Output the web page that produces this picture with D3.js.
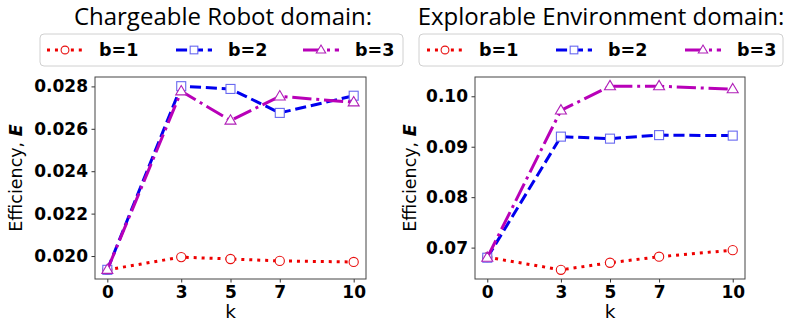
<!DOCTYPE html>
<html><head><meta charset="utf-8">
<script src="https://cdn.jsdelivr.net/npm/d3@7"></script>
<style>body{margin:0;background:#fff}</style>
</head><body>
<svg id="chart" width="794" height="324"></svg>
<script>
const kValues = [0, 3, 5, 7, 10];
const seriesNames = ["b=1", "b=2", "b=3"];
// Chargeable Robot domain
const robotB1 = [0.01935, 0.01995, 0.01986, 0.01977, 0.01972];
const robotB2 = [0.01935, 0.02801, 0.02788, 0.02675, 0.02756];
const robotB3 = [0.01935, 0.02777, 0.02639, 0.02753, 0.02725];
const robotTicks = [0.020, 0.022, 0.024, 0.026, 0.028];
// Explorable Environment domain
const envB1 = [0.0681, 0.0656, 0.0670, 0.0682, 0.0695];
const envB2 = [0.0680, 0.0920, 0.0916, 0.0923, 0.0922];
const envB3 = [0.0680, 0.0972, 0.1020, 0.1020, 0.1014];
const envTicks = [0.07, 0.08, 0.09, 0.10];

const styles = [
  {color: "#ee0000", dash: "3,4.95", marker: "circle", edge: "#e81010"},
  {color: "#0000ee", dash: "11.1,4.8", marker: "square", edge: "#6868f0"},
  {color: "#b800b8", dash: "19.2,4.8,3,4.8", marker: "triangle", edge: "#b020b8"}
];

const svg = d3.select("#chart");
const tickFont = "'DejaVu Sans', sans-serif";

function drawMarker(g, type, x, y, st, scale = 1) {
  let m;
  if (type === "circle") {
    m = g.append("circle").attr("cx", x).attr("cy", y).attr("r", 4.6 * scale);
  } else if (type === "square") {
    const h = 4.5 * scale;
    m = g.append("rect").attr("x", x - h).attr("y", y - h).attr("width", 2 * h).attr("height", 2 * h);
  } else {
    const s = 5.8 * scale;
    m = g.append("path").attr("d", `M${x},${y - s}L${x + s * 0.95},${y + s * 0.62}L${x - s * 0.95},${y + s * 0.62}Z`);
  }
  m.attr("fill", "#fff").attr("stroke", st.edge).attr("stroke-width", 1.1);
}

function panel(opts) {
  const {left, right, top, bottom, series, ticks, tickFmt, title, titleX, legend} = opts;
  const all = series.flat();
  const mn = d3.min(all), mx = d3.max(all), pad = (mx - mn) * 0.05;
  const x = d3.scaleLinear().domain([-0.5, 10.5]).range([left, right]);
  const y = d3.scaleLinear().domain([mn - pad, mx + pad]).range([bottom, top]);

  // title
  svg.append("text").attr("x", titleX).attr("y", 25).attr("text-anchor", "middle")
    .attr("font-family", "'Open Sans', sans-serif").attr("font-size", 24).attr("fill", "#000").text(title);

  // legend
  const lg = svg.append("g");
  lg.append("rect").attr("x", legend.x0).attr("y", 34).attr("width", legend.x1 - legend.x0).attr("height", 32)
    .attr("rx", 4).attr("fill", "#fff").attr("stroke", "#d0d0d0").attr("stroke-width", 1);
  series.forEach((s, i) => {
    const st = styles[i];
    const hx = legend.handles[i];
    lg.append("line").attr("x1", hx).attr("x2", hx + 36).attr("y1", 50).attr("y2", 50)
      .attr("stroke", st.color).attr("stroke-width", 3).attr("stroke-dasharray", st.dash);
    drawMarker(lg, st.marker, hx + 18, 50, st, 0.85);
    lg.append("text").attr("x", hx + 52).attr("y", 56).attr("font-family", tickFont).attr("font-weight", "bold")
      .attr("font-size", 17.5).text(seriesNames[i]);
  });

  // axes
  const xAxis = d3.axisBottom(x).tickValues(kValues).tickSize(3.5).tickPadding(3).tickFormat(d3.format("d"));
  const yAxis = d3.axisLeft(y).tickValues(ticks).tickSize(3.5).tickPadding(3.5).tickFormat(tickFmt);
  const gx = svg.append("g").attr("transform", `translate(0,${bottom})`).call(xAxis);
  const gy = svg.append("g").attr("transform", `translate(${left},0)`).call(yAxis);
  [gx, gy].forEach(g => {
    g.select(".domain").remove();
    g.selectAll(".tick line").attr("stroke", "#333");
    g.selectAll(".tick text").attr("font-family", tickFont).attr("font-weight", "bold").attr("font-size", 17).attr("fill", "#000");
  });
  gx.selectAll(".tick text").attr("y", 19).attr("dy", "0");

  // lines
  series.forEach((s, i) => {
    const st = styles[i];
    const line = d3.line().x((d, j) => x(kValues[j])).y(d => y(d));
    svg.append("path").datum(s).attr("d", line).attr("fill", "none").attr("stroke", st.color)
      .attr("stroke-width", 3).attr("stroke-dasharray", st.dash);
    const mg = svg.append("g");
    s.forEach((v, j) => drawMarker(mg, st.marker, x(kValues[j]), y(v), st));
  });

  // frame
  svg.append("rect").attr("x", left).attr("y", top).attr("width", right - left).attr("height", bottom - top)
    .attr("fill", "none").attr("stroke", "#444").attr("stroke-width", 1);

  // axis labels
  svg.append("text").attr("x", (left + right) / 2).attr("y", 318).attr("text-anchor", "middle")
    .attr("font-family", tickFont).attr("font-size", 18.5).text("k");
  const yl = svg.append("text").attr("transform", `translate(${opts.ylabelX},${(top + bottom) / 2}) rotate(-90)`)
    .attr("text-anchor", "middle").attr("font-family", tickFont).attr("font-size", 17.5);
  yl.append("tspan").text("Efficiency, ");
  yl.append("tspan").attr("font-weight", "bold").attr("font-style", "italic").text("E");
}

panel({left: 95, right: 366, top: 77, bottom: 279, series: [robotB1, robotB2, robotB3], ticks: robotTicks,
  tickFmt: d3.format(".3f"), title: "Chargeable Robot domain:", titleX: 223, ylabelX: 22,
  legend: {x0: 40, x1: 403, handles: [47, 176, 303]}});
panel({left: 475, right: 745, top: 77, bottom: 279, series: [envB1, envB2, envB3], ticks: envTicks,
  tickFmt: d3.format(".2f"), title: "Explorable Environment domain:", titleX: 601, ylabelX: 416,
  legend: {x0: 419, x1: 783, handles: [427, 556, 685]}});
</script>
</body></html>
